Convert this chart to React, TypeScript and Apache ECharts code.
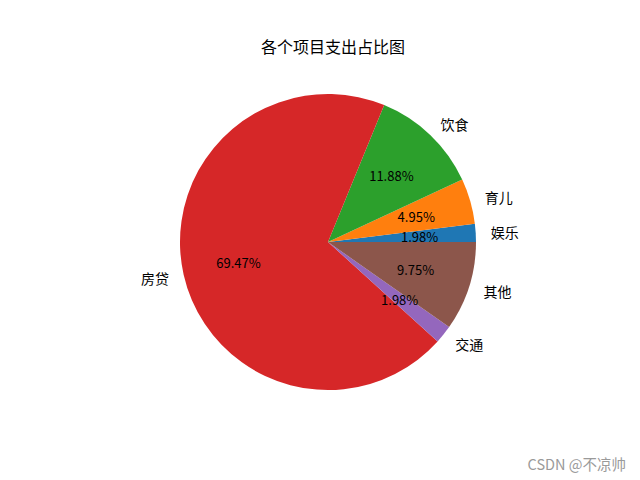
import React, { useEffect, useRef } from 'react';
import * as echarts from 'echarts';

// 各个项目支出（按占比反推的金额）
const categories = ['娱乐', '育儿', '饮食', '房贷', '交通', '其他'];
const spending = [200, 500, 1200, 7020, 200, 985];
const sliceColors = ['#1f77b4', '#ff7f0e', '#2ca02c', '#d62728', '#9467bd', '#8c564b'];

const chartTitle = '各个项目支出占比图';
const watermark = 'CSDN @不凉帅';

const FONT = '"Noto Sans CJK SC", "DejaVu Sans", sans-serif';

export default function App() {
  const chartRef = useRef<HTMLDivElement>(null);

  useEffect(() => {
    if (!chartRef.current) return;
    const chart = echarts.init(chartRef.current, undefined, { renderer: 'svg' });

    const total = spending.reduce((a, b) => a + b, 0);

    const pieData = categories.map((name, i) => ({
      name,
      value: spending[i],
      itemStyle: { color: sliceColors[i] },
    }));

    const radius = 148;
    const center = [328, 242];

    const option: echarts.EChartsOption = {
      animation: false,
      backgroundColor: '#ffffff',
      title: {
        text: chartTitle,
        left: 328,
        top: 33,
        textAlign: 'center',
        textStyle: {
          fontFamily: FONT,
          fontSize: 16,
          fontWeight: 'normal',
          color: '#000',
        },
      },
      graphic: [
        {
          type: 'text',
          right: 14,
          top: 456,
          style: {
            text: watermark,
            fill: '#9a9a9a',
            font: `14.5px ${FONT}`,
          },
        },
      ],
      series: [
        {
          // 扇区 + 外侧名称
          type: 'pie',
          center,
          radius: [0, radius],
          startAngle: 0,
          clockwise: false,
          avoidLabelOverlap: false,
          silent: true,
          itemStyle: { borderWidth: 0 },
          label: {
            show: true,
            position: 'outside',
            formatter: '{b}',
            color: '#000',
            fontFamily: FONT,
            fontSize: 14,
            distanceToLabelLine: 0,
          },
          labelLine: { show: false, length: 15, length2: 0 },
          data: pieData,
        },
        {
          // 百分比（0.6 半径处），与 matplotlib 一样逐项四舍五入
          type: 'pie',
          center,
          radius: [0, radius * 1.2],
          startAngle: 0,
          clockwise: false,
          avoidLabelOverlap: false,
          silent: true,
          itemStyle: { color: 'transparent', borderWidth: 0 },
          label: {
            show: true,
            position: 'inside',
            formatter: (p: any) => `${((p.value / total) * 100).toFixed(2)}%`,
            color: '#000',
            fontFamily: FONT,
            fontSize: 13,
          },
          labelLine: { show: false },
          data: categories.map((name, i) => ({ name, value: spending[i] })),
        },
      ],
    };

    chart.setOption(option);

    return () => {
      chart.dispose();
    };
  }, []);

  return (
    <div
      ref={chartRef}
      style={{ position: 'absolute', left: 0, top: 0, width: 640, height: 480 }}
    />
  );
}
